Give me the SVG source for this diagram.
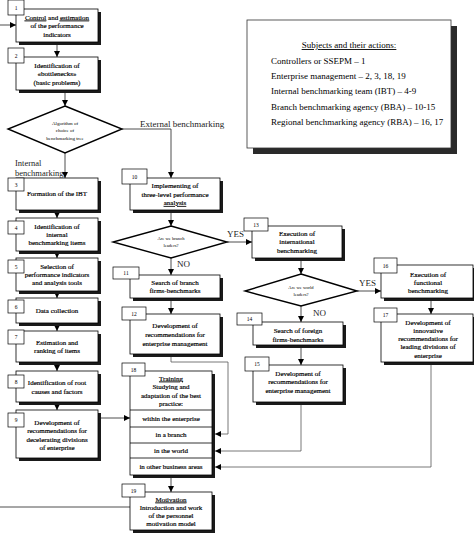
<svg xmlns="http://www.w3.org/2000/svg" width="474" height="533" viewBox="0 0 474 533">
<defs>
<marker id="ah" viewBox="0 0 10 10" refX="10" refY="5" markerWidth="6" markerHeight="6" markerUnits="userSpaceOnUse" orient="auto">
<path d="M0,0 L10,5 L0,10 z" fill="#000"/>
</marker>
<style>
text{font-family:"Liberation Serif","Times New Roman",serif;fill:#000;}
.t{font-size:7px;text-anchor:middle;stroke:#000;stroke-width:0.18;}
.n{font-size:5.5px;text-anchor:middle;}
.d{font-size:5px;text-anchor:middle;}
.lab{font-size:9px;fill:#222;}
.lg{font-size:9px;}
.sh{fill:#1a1a1a;}
.bx{fill:#fff;stroke:#000;stroke-width:0.8;}
.tab{fill:#fff;stroke:#000;stroke-width:0.7;}
.dia{fill:#fff;stroke:#000;stroke-width:1.4;}
.c{fill:none;stroke:#222;stroke-width:0.8;}
.g{fill:none;stroke:#555;stroke-width:0.8;}
.u{text-decoration:underline;}
</style>
</defs>
<rect width="474" height="533" fill="#fff"/>

<g id="connectors">
<path class="c" d="M0,25 H16" marker-end="url(#ah)"/>
<path class="c" d="M57,45 V57" marker-end="url(#ah)"/>
<path class="c" d="M65,93 V106" marker-end="url(#ah)"/>
<path class="c" d="M65,153 V178" marker-end="url(#ah)"/>
<path class="c" d="M122,129 H171 V178" marker-end="url(#ah)"/>
<path class="c" d="M57,213 V218" marker-end="url(#ah)"/>
<path class="c" d="M57,254 V258" marker-end="url(#ah)"/>
<path class="c" d="M57,294 V298" marker-end="url(#ah)"/>
<path class="c" d="M57,326 V331" marker-end="url(#ah)"/>
<path class="c" d="M57,365 V371" marker-end="url(#ah)"/>
<path class="c" d="M57,405 V410" marker-end="url(#ah)"/>
<path class="c" d="M101,418 H130" marker-end="url(#ah)"/>
<path class="c" d="M171,213 V226" marker-end="url(#ah)"/>
<path class="c" d="M227,242 H252" marker-end="url(#ah)"/>
<path class="c" d="M171,258 V275" marker-end="url(#ah)"/>
<path class="c" d="M171,301 V314" marker-end="url(#ah)"/>
<path class="g" d="M171,357 V362 H228 V434 H215" marker-end="url(#ah)"/>
<path class="c" d="M301,261 V274" marker-end="url(#ah)"/>
<path class="c" d="M301,306 V322" marker-end="url(#ah)"/>
<path class="c" d="M357,291 H381" marker-end="url(#ah)"/>
<path class="c" d="M301,348 V365" marker-end="url(#ah)"/>
<path class="g" d="M301,405 V451 H215" marker-end="url(#ah)"/>
<path class="c" d="M431,301 V314" marker-end="url(#ah)"/>
<path class="g" d="M431,365 V467 H215" marker-end="url(#ah)"/>
<path class="c" d="M171,478 V492" marker-end="url(#ah)"/>
<path class="c" d="M130,507 H0"/>
</g>

<g id="labels">
<text class="lab" x="140" y="126.5">External benchmarking</text>
<text class="lab" x="15" y="166" style="font-size:8.5px">Internal</text>
<text class="lab" x="15" y="175.5" style="font-size:8.5px">benchmarking</text>
<text class="lab" x="227" y="237">YES</text>
<text class="lab" x="177" y="267">NO</text>
<text class="lab" x="313" y="316">NO</text>
<text class="lab" x="359" y="285.5">YES</text>
</g>

<g id="legend">
<rect x="253" y="26" width="204" height="128" fill="#2a2a2a"/>
<rect x="247" y="20" width="204" height="128" fill="#fff" stroke="#333" stroke-width="0.8"/>
<text class="lg u" x="349" y="48" text-anchor="middle">Subjects and their actions:</text>
<text class="lg" x="271" y="64">Controllers or SSEPM – 1</text>
<text class="lg" x="271" y="79">Enterprise management – 2, 3, 18, 19</text>
<text class="lg" x="271" y="94">Internal benchmarking team (IBT) – 4-9</text>
<text class="lg" x="271" y="110">Branch benchmarking agency (BBA) – 10-15</text>
<text class="lg" x="271" y="125">Regional benchmarking agency (RBA) – 16, 17</text>
</g>

<g id="n1">
<rect class="sh" x="19" y="12" width="82" height="33"/>
<rect class="bx" x="16" y="9" width="82" height="33"/>
<rect class="tab" x="8" y="0" width="16" height="15"/>
<text class="n" x="16" y="10">1</text>
<text class="t" x="57" y="19.5"><tspan class="u">Control</tspan> and <tspan class="u">estimation</tspan></text>
<text class="t" x="57" y="28">of the performance</text>
<text class="t" x="57" y="36.5">indicators</text>
</g>

<g id="n2">
<rect class="sh" x="19" y="60" width="82" height="33"/>
<rect class="bx" x="16" y="57" width="82" height="33"/>
<rect class="tab" x="8" y="48" width="16" height="15"/>
<text class="n" x="16" y="57.5">2</text>
<text class="t" x="57" y="67.5">Identification of</text>
<text class="t" x="57" y="76">«bottlenecks»</text>
<text class="t" x="57" y="84.5">(basic problems)</text>
</g>

<g id="d1">
<polygon class="dia" points="65,106 122,129 65,153 8,129"/>
<text class="d" x="65" y="124.5">Algorithm of</text>
<text class="d" x="65" y="132">choice of</text>
<text class="d" x="65" y="139.5">benchmarking tree</text>
</g>

<g id="n3">
<rect class="sh" x="19" y="181" width="82" height="32"/>
<rect class="bx" x="16" y="178" width="82" height="32"/>
<rect class="tab" x="8" y="178" width="16" height="13"/>
<text class="n" x="16" y="186.5">3</text>
<text class="t" x="57" y="196">Formation of the IBT</text>
</g>

<g id="n4">
<rect class="sh" x="19" y="221" width="82" height="33"/>
<rect class="bx" x="16" y="218" width="82" height="33"/>
<rect class="tab" x="8" y="221" width="16" height="13"/>
<text class="n" x="16" y="229.5">4</text>
<text class="t" x="57" y="228.5">Identification of</text>
<text class="t" x="57" y="236.5">internal</text>
<text class="t" x="57" y="244.5">benchmarking items</text>
</g>

<g id="n5">
<rect class="sh" x="19" y="261" width="82" height="33"/>
<rect class="bx" x="16" y="258" width="82" height="33"/>
<rect class="tab" x="8" y="260" width="16" height="13"/>
<text class="n" x="16" y="268.5">5</text>
<text class="t" x="57" y="268.5">Selection of</text>
<text class="t" x="57" y="276.5">performance indicators</text>
<text class="t" x="57" y="285">and analysis tools</text>
</g>

<g id="n6">
<rect class="sh" x="19" y="301" width="82" height="25"/>
<rect class="bx" x="16" y="298" width="82" height="25"/>
<rect class="tab" x="8" y="300" width="16" height="13"/>
<text class="n" x="16" y="308.5">6</text>
<text class="t" x="57" y="313">Data collection</text>
</g>

<g id="n7">
<rect class="sh" x="19" y="334" width="82" height="31"/>
<rect class="bx" x="16" y="331" width="82" height="31"/>
<rect class="tab" x="8" y="330" width="16" height="14"/>
<text class="n" x="16" y="339">7</text>
<text class="t" x="57" y="345">Estimation and</text>
<text class="t" x="57" y="353">ranking of items</text>
</g>

<g id="n8">
<rect class="sh" x="19" y="374" width="82" height="31"/>
<rect class="bx" x="16" y="371" width="82" height="31"/>
<rect class="tab" x="8" y="375" width="16" height="13"/>
<text class="n" x="16" y="383.5">8</text>
<text class="t" x="57" y="385">Identification of root</text>
<text class="t" x="57" y="393.5">causes and factors</text>
</g>

<g id="n9">
<rect class="sh" x="19" y="413" width="82" height="48"/>
<rect class="bx" x="16" y="410" width="82" height="48"/>
<rect class="tab" x="8" y="413" width="16" height="14"/>
<text class="n" x="16" y="422">9</text>
<text class="t" x="57" y="424.5">Development of</text>
<text class="t" x="57" y="433">recommendations for</text>
<text class="t" x="57" y="441.5">decelerating divisions</text>
<text class="t" x="57" y="449.5">of enterprise</text>
</g>

<g id="n10">
<rect class="sh" x="133" y="181" width="90" height="32"/>
<rect class="bx" x="130" y="178" width="90" height="32"/>
<rect class="tab" x="122" y="169" width="25" height="15"/>
<text class="n" x="134.5" y="178.5">10</text>
<text class="t" x="175" y="188">Implementing of</text>
<text class="t" x="175" y="196.5">three-level performance</text>
<text class="t u" x="175" y="205">analysis</text>
</g>

<g id="d2">
<polygon class="dia" points="171,226 227,242 171,258 113,242"/>
<text class="d" x="171" y="240" style="font-size:4.6px">Are we branch</text>
<text class="d" x="171" y="247" style="font-size:4.6px">leaders?</text>
</g>

<g id="n11">
<rect class="sh" x="133" y="278" width="90" height="23"/>
<rect class="bx" x="130" y="275" width="90" height="23"/>
<rect class="tab" x="113" y="267" width="26" height="12"/>
<text class="n" x="126" y="275">11</text>
<text class="t" x="175" y="285">Search of branch</text>
<text class="t" x="175" y="293">firms-benchmarks</text>
</g>

<g id="n12">
<rect class="sh" x="133" y="317" width="90" height="40"/>
<rect class="bx" x="130" y="314" width="90" height="40"/>
<rect class="tab" x="122" y="307" width="24" height="13"/>
<text class="n" x="134" y="315.5">12</text>
<text class="t" x="175" y="328">Development of</text>
<text class="t" x="175" y="336.5">recommendations for</text>
<text class="t" x="175" y="345.5">enterprise management</text>
</g>

<g id="n13">
<rect class="sh" x="255" y="229" width="90" height="32"/>
<rect class="bx" x="252" y="226" width="90" height="32"/>
<rect class="tab" x="244" y="218" width="24" height="13"/>
<text class="n" x="256" y="226.5">13</text>
<text class="t" x="297" y="235.5">Execution of</text>
<text class="t" x="297" y="244">international</text>
<text class="t" x="297" y="252.5">benchmarking</text>
</g>

<g id="d3">
<polygon class="dia" points="301,274 357,291 301,306 245,291"/>
<text class="d" x="301" y="289" style="font-size:4.6px">Are we world</text>
<text class="d" x="301" y="296" style="font-size:4.6px">leaders?</text>
</g>

<g id="n14">
<rect class="sh" x="256" y="325" width="90" height="23"/>
<rect class="bx" x="253" y="322" width="90" height="23"/>
<rect class="tab" x="237" y="313" width="25" height="12"/>
<text class="n" x="249.5" y="321">14</text>
<text class="t" x="298" y="333">Search of foreign</text>
<text class="t" x="298" y="341.5">firms-benchmarks</text>
</g>

<g id="n15">
<rect class="sh" x="256" y="368" width="90" height="37"/>
<rect class="bx" x="253" y="365" width="90" height="37"/>
<rect class="tab" x="245" y="357" width="24" height="14"/>
<text class="n" x="257" y="366">15</text>
<text class="t" x="298" y="375.5">Development of</text>
<text class="t" x="298" y="384">recommendations for</text>
<text class="t" x="298" y="392.5">enterprise management</text>
</g>

<g id="n16">
<rect class="sh" x="384" y="268" width="92" height="33"/>
<rect class="bx" x="381" y="265" width="92" height="33"/>
<rect class="tab" x="374" y="258" width="23" height="15"/>
<text class="n" x="385.5" y="267.5">16</text>
<text class="t" x="428" y="276.5">Execution of</text>
<text class="t" x="428" y="284.5">functional</text>
<text class="t" x="428" y="293">benchmarking</text>
</g>

<g id="n17">
<rect class="sh" x="384" y="317" width="92" height="48"/>
<rect class="bx" x="381" y="314" width="92" height="48"/>
<rect class="tab" x="374" y="308" width="23" height="14"/>
<text class="n" x="385.5" y="317">17</text>
<text class="t" x="428" y="325">Development of</text>
<text class="t" x="428" y="333">innovative</text>
<text class="t" x="428" y="341">recommendations for</text>
<text class="t" x="428" y="349">leading divisions of</text>
<text class="t" x="428" y="357.5">enterprise</text>
</g>

<g id="n18">
<rect class="sh" x="133" y="374" width="82" height="104"/>
<rect class="bx" x="130" y="371" width="82" height="104"/>
<path d="M130,410 H212 M130,427 H212 M130,443 H212 M130,458 H212" stroke="#000" stroke-width="0.8"/>
<rect class="tab" x="122" y="363" width="23" height="13"/>
<text class="n" x="133.5" y="371.5">18</text>
<text class="t u" x="171" y="380.5">Training</text>
<text class="t" x="171" y="389">Studying and</text>
<text class="t" x="171" y="397.5">adaptation of the best</text>
<text class="t" x="171" y="405.5">practice:</text>
<text class="t" x="171" y="421">within the enterprise</text>
<text class="t" x="171" y="437">in a branch</text>
<text class="t" x="171" y="453">in the world</text>
<text class="t" x="171" y="469">in other business areas</text>
</g>

<g id="n19">
<rect class="sh" x="133" y="495" width="82" height="38"/>
<rect class="bx" x="130" y="492" width="82" height="38"/>
<rect class="tab" x="122" y="484" width="23" height="13"/>
<text class="n" x="133.5" y="492.5">19</text>
<text class="t u" x="171" y="501.5">Motivation</text>
<text class="t" x="171" y="509.5">Introduction and work</text>
<text class="t" x="171" y="517.5">of the personnel</text>
<text class="t" x="171" y="525.5">motivation model</text>
</g>
</svg>
